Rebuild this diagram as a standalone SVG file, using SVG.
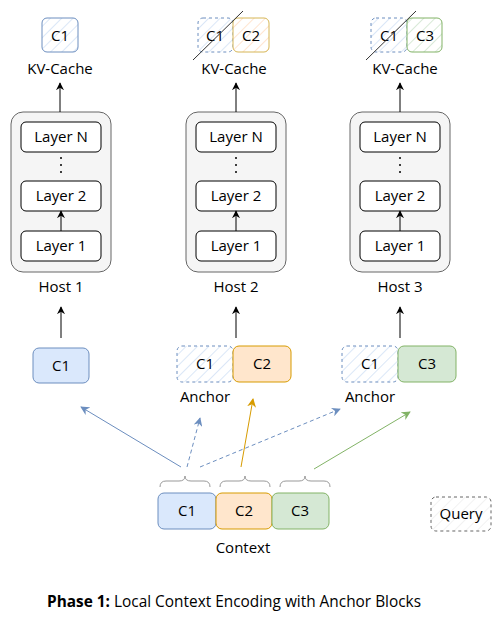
<svg xmlns="http://www.w3.org/2000/svg" width="501" height="627" viewBox="0 0 501 627">
<style>
text{font-family:"Open Sans","Noto Sans","Liberation Sans",sans-serif;font-size:15px;fill:#000;text-anchor:middle}
.host{fill:#f5f5f5;stroke:#666;stroke-width:1}
.layer{fill:#fff;stroke:#000;stroke-width:1}
.b{stroke:#6c8ebf;fill:#dae8fc}
.o{stroke:#d79b00;fill:#ffe6cc}
.g{stroke:#82b366;fill:#d5e8d4}
.bh{stroke:#6c8ebf;fill:url(#hb)}
.oh{stroke:#d6b656;fill:url(#ho)}
.gh{stroke:#82b366;fill:url(#hg)}
.dash{stroke-dasharray:3 3}
.k{stroke:#000;stroke-width:1;fill:none}
.brace{stroke:#999;fill:none;stroke-width:1}
</style>
<defs>
<pattern id="hb" width="8" height="8" patternUnits="userSpaceOnUse" patternTransform="rotate(45)"><rect width="8" height="8" fill="#fff"/><line x1="0" y1="0" x2="0" y2="8" stroke="#cfdff5" stroke-width="1.5"/></pattern>
<pattern id="ho" width="8" height="8" patternUnits="userSpaceOnUse" patternTransform="rotate(45)"><rect width="8" height="8" fill="#fff"/><line x1="0" y1="0" x2="0" y2="8" stroke="#ffdcc0" stroke-width="1.5"/></pattern>
<pattern id="hg" width="8" height="8" patternUnits="userSpaceOnUse" patternTransform="rotate(45)"><rect width="8" height="8" fill="#fff"/><line x1="0" y1="0" x2="0" y2="8" stroke="#cce2ca" stroke-width="1.5"/></pattern>
<pattern id="hq" width="8" height="8" patternUnits="userSpaceOnUse" patternTransform="rotate(45)"><rect width="8" height="8" fill="#fff"/><line x1="0" y1="0" x2="0" y2="8" stroke="#eee" stroke-width="1.5"/></pattern>
<marker id="ak" viewBox="0 0 10 10" refX="9" refY="5" markerWidth="8" markerHeight="8" markerUnits="userSpaceOnUse" orient="auto"><path d="M0,0 L10,5 L0,10 L3,5 z" fill="#000"/></marker>
<marker id="ab" viewBox="0 0 10 10" refX="9" refY="5" markerWidth="9" markerHeight="9" markerUnits="userSpaceOnUse" orient="auto"><path d="M0,0 L10,5 L0,10 L3,5 z" fill="#6c8ebf"/></marker>
<marker id="ao" viewBox="0 0 10 10" refX="9" refY="5" markerWidth="9" markerHeight="9" markerUnits="userSpaceOnUse" orient="auto"><path d="M0,0 L10,5 L0,10 L3,5 z" fill="#d79b00"/></marker>
<marker id="ag" viewBox="0 0 10 10" refX="9" refY="5" markerWidth="9" markerHeight="9" markerUnits="userSpaceOnUse" orient="auto"><path d="M0,0 L10,5 L0,10 L3,5 z" fill="#82b366"/></marker>
</defs>

<!-- Host 1 column -->
<g id="kv1">
<rect class="bh" x="42" y="18" width="36" height="34" rx="5"/>
<text x="60" y="41">C1</text>
<text x="60" y="74">KV-Cache</text>
</g>
<g id="host1">
<rect class="host" x="11" y="112" width="100" height="160" rx="12"/>
<rect class="layer" x="21" y="122" width="80" height="30" rx="5"/><text x="61" y="142">Layer N</text>
<rect class="layer" x="21" y="181" width="80" height="30" rx="5"/><text x="61" y="201">Layer 2</text>
<rect class="layer" x="21" y="231" width="80" height="30" rx="5"/><text x="61" y="251">Layer 1</text>
<circle cx="61" cy="158" r="1"/><circle cx="61" cy="165" r="1"/><circle cx="61" cy="172" r="1"/>
<text x="61" y="292">Host 1</text>
</g>
<g id="in1">
<rect class="b" x="33" y="348" width="56" height="35" rx="6"/>
<text x="61" y="371">C1</text>
</g>

<!-- Host 2 column -->
<g id="kv2">
<rect class="bh dash" x="198" y="18" width="35" height="34" rx="5"/>
<rect class="oh" x="233" y="18" width="36" height="34" rx="5"/>
<text x="215" y="41">C1</text>
<text x="251" y="41">C2</text>
<line x1="243" y1="11" x2="193" y2="60" stroke="#333" stroke-width="1"/>
<text x="234" y="74">KV-Cache</text>
</g>
<g id="host2">
<rect class="host" x="186" y="112" width="100" height="160" rx="12"/>
<rect class="layer" x="196" y="122" width="80" height="30" rx="5"/><text x="236" y="142">Layer N</text>
<rect class="layer" x="196" y="181" width="80" height="30" rx="5"/><text x="236" y="201">Layer 2</text>
<rect class="layer" x="196" y="231" width="80" height="30" rx="5"/><text x="236" y="251">Layer 1</text>
<circle cx="236" cy="158" r="1"/><circle cx="236" cy="165" r="1"/><circle cx="236" cy="172" r="1"/>
<text x="236" y="292">Host 2</text>
</g>
<g id="in2">
<rect class="bh dash" x="177" y="346" width="56" height="36" rx="5"/>
<rect class="o" x="233" y="346" width="58" height="36" rx="6"/>
<text x="205" y="369">C1</text>
<text x="262" y="369">C2</text>
<text x="205" y="402">Anchor</text>
</g>

<!-- Host 3 column -->
<g id="kv3">
<rect class="bh dash" x="371" y="18" width="36" height="34" rx="5"/>
<rect class="gh" x="407" y="18" width="35" height="34" rx="5"/>
<text x="389" y="41">C1</text>
<text x="425" y="41">C3</text>
<line x1="416" y1="11" x2="366" y2="60" stroke="#333" stroke-width="1"/>
<text x="405" y="74">KV-Cache</text>
</g>
<g id="host3">
<rect class="host" x="350" y="112" width="100" height="160" rx="12"/>
<rect class="layer" x="360" y="122" width="80" height="30" rx="5"/><text x="400" y="142">Layer N</text>
<rect class="layer" x="360" y="181" width="80" height="30" rx="5"/><text x="400" y="201">Layer 2</text>
<rect class="layer" x="360" y="231" width="80" height="30" rx="5"/><text x="400" y="251">Layer 1</text>
<circle cx="400" cy="158" r="1"/><circle cx="400" cy="165" r="1"/><circle cx="400" cy="172" r="1"/>
<text x="400" y="292">Host 3</text>
</g>
<g id="in3">
<rect class="bh dash" x="342" y="346" width="56" height="36" rx="5"/>
<rect class="g" x="398" y="346" width="58" height="36" rx="6"/>
<text x="370" y="369">C1</text>
<text x="427" y="369">C3</text>
<text x="370" y="402">Anchor</text>
</g>

<!-- Context -->
<g id="context">
<rect class="b" x="158" y="493" width="58" height="36" rx="6"/>
<rect class="o" x="216" y="493" width="56" height="36" rx="6"/>
<rect class="g" x="272" y="493" width="57" height="36" rx="6"/>
<text x="187" y="516">C1</text>
<text x="244" y="516">C2</text>
<text x="300" y="516">C3</text>
<path class="brace" d="M160,487 Q160,481 166,481 L179,481 Q185,481 185,476 Q185,481 191,481 L204,481 Q210,481 210,487"/>
<path class="brace" d="M220,487 Q220,481 226,481 L239,481 Q245,481 245,476 Q245,481 251,481 L264,481 Q270,481 270,487"/>
<path class="brace" d="M280,487 Q280,481 286,481 L299,481 Q305,481 305,476 Q305,481 311,481 L324,481 Q330,481 330,487"/>
<text x="243" y="553">Context</text>
</g>

<g id="query">
<rect x="431" y="497" width="60" height="34" rx="5" fill="url(#hq)" stroke="#666" stroke-dasharray="3 3"/>
<text x="461" y="519">Query</text>
</g>

<g id="connectors">
<line class="k" x1="60" y1="112" x2="60" y2="83" marker-end="url(#ak)"/>
<line class="k" x1="236" y1="112" x2="236" y2="83" marker-end="url(#ak)"/>
<line class="k" x1="400" y1="112" x2="400" y2="83" marker-end="url(#ak)"/>
<line class="k" x1="61" y1="231" x2="61" y2="211" marker-end="url(#ak)"/>
<line class="k" x1="236" y1="231" x2="236" y2="211" marker-end="url(#ak)"/>
<line class="k" x1="400" y1="231" x2="400" y2="211" marker-end="url(#ak)"/>
<line class="k" x1="61" y1="338" x2="61" y2="307" marker-end="url(#ak)"/>
<line class="k" x1="236" y1="338" x2="236" y2="307" marker-end="url(#ak)"/>
<line class="k" x1="400" y1="338" x2="400" y2="307" marker-end="url(#ak)"/>
<line x1="181" y1="467" x2="81" y2="407" stroke="#6c8ebf" marker-end="url(#ab)"/>
<line x1="187" y1="467" x2="200" y2="418" stroke="#6c8ebf" stroke-dasharray="4 3" marker-end="url(#ab)"/>
<line x1="241" y1="467" x2="253" y2="399" stroke="#d79b00" marker-end="url(#ao)"/>
<line x1="200" y1="467" x2="340" y2="409" stroke="#6c8ebf" stroke-dasharray="4 3" marker-end="url(#ab)"/>
<line x1="314" y1="469" x2="410" y2="412" stroke="#82b366" marker-end="url(#ag)"/>
</g>

<text x="47" y="607" style="text-anchor:start;font-size:15.4px"><tspan font-weight="bold">Phase 1:</tspan> Local Context Encoding with Anchor Blocks</text>
</svg>
